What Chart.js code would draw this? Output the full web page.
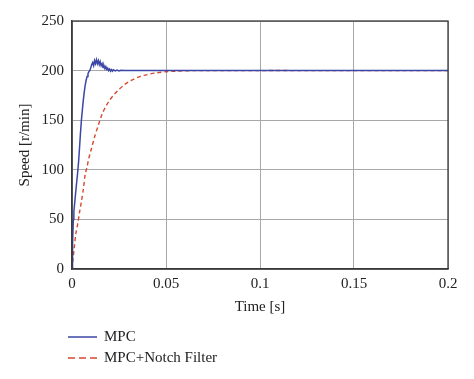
<!DOCTYPE html>
<html>
<head>
<meta charset="utf-8">
<script src="https://cdn.jsdelivr.net/npm/chart.js@4"></script>
<style>
  body { margin: 0; background: #fff; }
  #wrap { position: relative; width: 474px; height: 379px; }
  #legend { position: absolute; left: 68px; top: 326px; font-family: "Liberation Serif", serif; font-size: 15px; color: #222; }
  .row { height: 21px; display: flex; align-items: center; }
  .row svg { margin-right: 7px; }
</style>
</head>
<body>
<div id="wrap">
  <canvas id="myChart" width="474" height="379"></canvas>
  <div id="legend">
    <div class="row"><svg width="29" height="4"><line x1="0" y1="2" x2="29" y2="2" stroke="#3b46a6" stroke-width="1.5"/></svg>MPC</div>
    <div class="row"><svg width="29" height="4"><line x1="0" y1="2" x2="29" y2="2" stroke="#d8482f" stroke-width="1.5" stroke-dasharray="7,4"/></svg>MPC+Notch Filter</div>
  </div>
</div>
<script>
// values
var mpcTime = [0, 0.0003, 0.0007, 0.001, 0.0015, 0.002, 0.0025, 0.003, 0.0035, 0.004, 0.0045, 0.005,
  0.0055, 0.006, 0.0065, 0.007, 0.0075, 0.008, 0.0085, 0.009, 0.0095, 0.010, 0.0105, 0.011, 0.0115,
  0.012, 0.0125, 0.013, 0.0135, 0.014, 0.0145, 0.015, 0.0155, 0.016, 0.0165, 0.017, 0.0175, 0.018,
  0.0185, 0.019, 0.0195, 0.020, 0.0205, 0.021, 0.0215, 0.022, 0.023, 0.024, 0.025, 0.026, 0.028,
  0.030, 0.040, 0.2]
var mpcSpeed = [0, 25, 50, 58, 68, 78, 88, 97, 108, 122, 137, 150,
  160, 170, 178, 185, 190, 194, 197, 199, 200, 203, 206, 208, 205,
  210, 207, 211, 207, 210, 206, 209, 205, 207, 203, 205, 202, 204,
  201, 202.5, 200, 201.5, 199.5, 201, 199.5, 200.8, 199.6, 200.6, 199.7, 200.4, 200,
  200, 200, 200]

var notchTime = [0, 0.0005, 0.001, 0.002, 0.003, 0.004, 0.005, 0.006, 0.007, 0.008, 0.009, 0.010,
  0.012, 0.014, 0.016, 0.018, 0.020, 0.022, 0.025, 0.028, 0.030, 0.033, 0.036, 0.040, 0.045,
  0.050, 0.055, 0.060, 0.066, 0.2]
var notchSpeed = [0, 10, 18, 35, 45, 57, 68, 80, 95, 103, 112, 119,
  133, 145, 156, 164, 170, 175, 181, 186, 188.5, 191.5, 194, 196, 197.8,
  198.8, 199.4, 199.8, 200, 200]

var xTickLabels = ['0', '0.05', '0.1', '0.15', '0.2']
var yTickLabels = ['0', '50', '100', '150', '200', '250']

function toPoints(xs, ys) {
  var pts = []
  for (var i = 0; i < xs.length; i++) pts.push({x: xs[i], y: ys[i]})
  return pts
}

var serif = '"Liberation Serif", serif'

// dark frame round the plot area
var frame = {
  id: 'frame',
  afterDraw: function(chart) {
    var a = chart.chartArea, ctx = chart.ctx
    ctx.save()
    ctx.strokeStyle = '#3a3a3a'
    ctx.lineWidth = 1.3
    ctx.strokeRect(a.left, a.top, a.right - a.left, a.bottom - a.top)
    ctx.restore()
  }
}

var ctx = document.getElementById('myChart').getContext('2d')
var chart = new Chart(ctx, {
  type: 'line',
  data: {
    datasets: [
      {
        label: 'MPC',
        data: toPoints(mpcTime, mpcSpeed),
        borderColor: '#3b46a6',
        borderWidth: 1.5,
        pointRadius: 0,
        tension: 0
      },
      {
        label: 'MPC+Notch Filter',
        data: toPoints(notchTime, notchSpeed),
        borderColor: '#d8482f',
        borderWidth: 1.4,
        borderDash: [4, 3],
        pointRadius: 0,
        tension: 0.3
      }
    ]
  },
  options: {
    responsive: false,
    animation: false,
    layout: { padding: { top: 21, right: 26, left: 0, bottom: 0 } },
    plugins: { legend: { display: false }, tooltip: { enabled: false } },
    scales: {
      x: {
        type: 'linear',
        min: 0, max: 0.2,
        afterFit: function(s) { s.height = 110 },
        grid: { color: '#a8a8a8', lineWidth: 1, drawTicks: false },
        border: { color: '#3a3a3a', width: 1.3 },
        ticks: {
          stepSize: 0.05, padding: 6, color: '#222',
          font: { family: serif, size: 15 },
          callback: function(v, i) { return xTickLabels[i] }
        },
        title: {
          display: true, text: 'Time [s]', color: '#222',
          font: { family: serif, size: 15 },
          padding: { top: 0, bottom: 63 }
        }
      },
      y: {
        min: 0, max: 250,
        afterFit: function(s) { s.width = 72 },
        grid: { color: '#a8a8a8', lineWidth: 1, drawTicks: false },
        border: { color: '#3a3a3a', width: 1.3 },
        ticks: {
          stepSize: 50, padding: 8, color: '#222',
          font: { family: serif, size: 15 },
          callback: function(v, i) { return yTickLabels[i] }
        },
        title: {
          display: true, text: 'Speed [r/min]', color: '#222',
          font: { family: serif, size: 15 },
          padding: { top: 16, bottom: 0 }
        }
      }
    }
  },
  plugins: [frame]
})
</script>
</body>
</html>
